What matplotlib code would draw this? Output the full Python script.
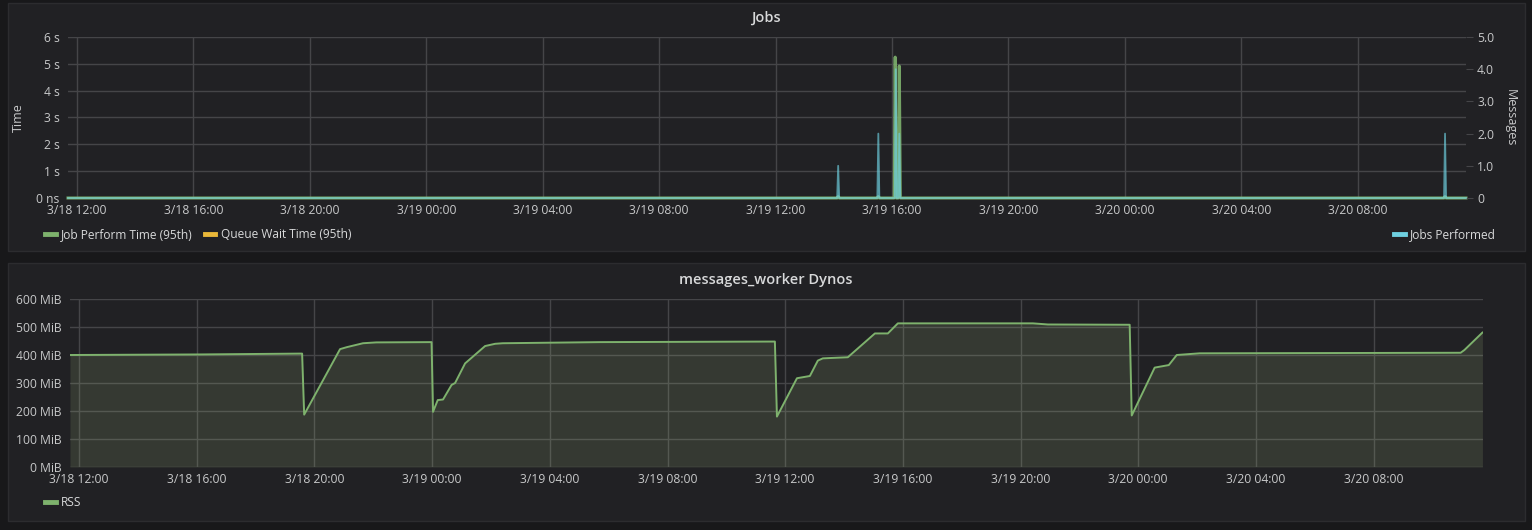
import matplotlib
matplotlib.use("Agg")
from matplotlib import pyplot as plt
from matplotlib.patches import Rectangle
from matplotlib.lines import Line2D
from matplotlib.ticker import FuncFormatter

plt.rcParams['font.family'] = ['Open Sans', 'DejaVu Sans']

# time in hours after 3/18 12:00
x_ticks = [0, 4, 8, 12, 16, 20, 24, 28, 32, 36, 40, 44]
x_labels = ["3/18 12:00", "3/18 16:00", "3/18 20:00", "3/19 00:00", "3/19 04:00", "3/19 08:00",
            "3/19 12:00", "3/19 16:00", "3/19 20:00", "3/20 00:00", "3/20 04:00", "3/20 08:00"]
t_start, t_end = -0.31, 47.72

# Jobs panel: spikes (hour, value)
perform_hours = [26.15, 27.53, 28.11, 28.25, 47.0]
perform_secs = [0.05, 0.05, 5.25, 4.92, 0.05]
queue_hours = [26.15, 27.53, 28.11, 28.25, 47.0]
queue_secs = [0.02, 0.02, 0.03, 0.03, 0.02]
jobs_hours = [26.15, 27.53, 28.13, 28.25, 47.0]
jobs_count = [1, 2, 4, 2, 2]

# RSS panel
rss_hours = [-0.31, 4.11, 7.51, 7.58, 7.65, 8.87, 9.10, 9.65, 10.1, 11.93, 11.98, 12.03, 12.19, 12.37,
             12.66, 12.78, 13.12, 13.80, 14.14, 14.4, 17.70, 23.65, 23.72, 24.40, 24.84, 25.11,
             25.28, 26.13, 27.05, 27.49, 27.83, 32.42, 32.93, 35.71, 35.78, 36.56, 37.04, 37.31,
             38.09, 46.96, 47.09, 47.70]
rss_mib = [400, 402, 405, 405, 187, 421, 428, 442, 445, 446, 446, 197, 239, 241,
           293, 300, 370, 432, 440, 442, 446, 448, 180, 317, 325, 380,
           388, 392, 477, 477, 513, 513, 509, 508, 184, 355, 364, 400,
           406, 408, 418, 480]

GREEN = '#7EB26D'
YELLOW = '#EAB839'
CYAN = '#6ED0E0'
PAGE = '#18181a'
PANEL = '#212124'
GRID = '#454548'
TXT = '#d8d9da'
TICK = '#c8c9ca'

W, H = 1532, 530
fig = plt.figure(figsize=(W / 100, H / 100), dpi=100, facecolor=PAGE)


def fx(px):
    return px / W


def fy(py):
    return 1 - py / H


# panel boxes
for top, bot in [(3, 251), (263, 521)]:
    fig.patches.append(Rectangle((fx(8), fy(bot)), fx(1517), (bot - top) / H, transform=fig.transFigure,
                                 facecolor=PANEL, edgecolor='#2c2c2f', lw=1, zorder=-5))


def spikes(hours, vals, w=0.035):
    xs, ys = [t_start], [0]
    for h, v in zip(hours, vals):
        xs += [h - w, h, h + w]
        ys += [0, v, 0]
    xs.append(t_end)
    ys.append(0)
    return xs, ys


def style_axes(ax):
    ax.set_facecolor('none')
    for s in ax.spines.values():
        s.set_visible(False)
    ax.set_xlim(t_start, t_end)
    ax.set_xticks(x_ticks)
    ax.set_xticklabels(x_labels)
    ax.tick_params(colors=GRID, labelcolor=TICK, labelsize=8.7, length=4, width=1, pad=2)
    ax.tick_params(axis='x', length=0, pad=4)
    ax.grid(True, color=GRID, lw=1)
    ax.set_axisbelow(True)


# ---- Jobs panel
ax1 = fig.add_axes([fx(68), fy(198), fx(1466 - 68), (198 - 37) / H])
style_axes(ax1)
ax1.set_ylim(0, 6)
ax1.set_yticks([0, 1, 2, 3, 4, 5, 6])
ax1.yaxis.set_major_formatter(FuncFormatter(lambda v, p: "0 ns" if v == 0 else "%d s" % v))
ax1.tick_params(axis='y', length=0, pad=6)
ax1.set_ylabel("Time", color=TICK, fontsize=9, labelpad=8)

xs, ys = spikes(queue_hours, queue_secs)
ax1.fill_between(xs, ys, color=YELLOW, alpha=0.1, lw=0)
ax1.plot(xs, ys, color=YELLOW, lw=1.2, clip_on=False)
xs, ys = spikes(perform_hours, perform_secs)
ax1.fill_between(xs, ys, color=GREEN, alpha=0.2, lw=0)
ax1.plot(xs, ys, color=GREEN, lw=2.2, alpha=0.9, clip_on=False)

ax2 = ax1.twinx()
for s in ax2.spines.values():
    s.set_visible(False)
ax2.set_xlim(t_start, t_end)
ax2.set_ylim(0, 5)
ax2.set_yticks([0, 1, 2, 3, 4, 5])
ax2.yaxis.set_major_formatter(FuncFormatter(lambda v, p: "0" if v == 0 else "%.1f" % v))
ax2.tick_params(axis='y', colors=GRID, labelcolor=TICK, labelsize=8.7, length=5, pad=3)
ax2.set_ylabel("Messages", color=TICK, fontsize=9, rotation=270, labelpad=16)
xs, ys = spikes(jobs_hours, jobs_count)
ax2.fill_between(xs, ys, color=CYAN, alpha=0.2, lw=0)
ax2.plot(xs, ys, color=CYAN, lw=1.3, alpha=0.65, clip_on=False)

fig.text(fx(766), fy(18), "Jobs", ha='center', va='center', color=TXT, fontsize=10.5, fontweight='semibold')

h1 = [Line2D([], [], color=GREEN, lw=3.5), Line2D([], [], color=YELLOW, lw=3.5)]
fig.legend(h1, ["Job Perform Time (95th)", "Queue Wait Time (95th)"], loc='center left',
           bbox_to_anchor=(fx(34), fy(235)), frameon=False, ncol=2, handlelength=0.9,
           handletextpad=0.45, columnspacing=1.0, fontsize=8.6, labelcolor=TXT)
fig.legend([Line2D([], [], color=CYAN, lw=3.5)], ["Jobs Performed"], loc='center right',
           bbox_to_anchor=(fx(1507), fy(235)), frameon=False, handlelength=0.9,
           handletextpad=0.45, fontsize=8.6, labelcolor=TXT)

# ---- messages_worker Dynos panel
ax3 = fig.add_axes([fx(70), fy(467), fx(1483 - 70), (467 - 299) / H])
style_axes(ax3)
ax3.set_ylim(0, 600)
ax3.set_yticks([0, 100, 200, 300, 400, 500, 600])
ax3.yaxis.set_major_formatter(FuncFormatter(lambda v, p: "%d MiB" % v))
ax3.tick_params(axis='y', length=0, pad=6)
ax3.fill_between(rss_hours, rss_mib, color='#adc888', alpha=0.15, lw=0)
ax3.plot(rss_hours, rss_mib, color=GREEN, lw=1.4)

fig.text(fx(766), fy(280), "messages_worker Dynos", ha='center', va='center', color=TXT,
         fontsize=10.5, fontweight='semibold')
fig.legend([Line2D([], [], color=GREEN, lw=3.5)], ["RSS"], loc='center left',
           bbox_to_anchor=(fx(34), fy(503)), frameon=False, handlelength=0.9,
           handletextpad=0.45, fontsize=8.6, labelcolor=TXT)

plt.savefig("out.png", dpi=100, facecolor=PAGE)
